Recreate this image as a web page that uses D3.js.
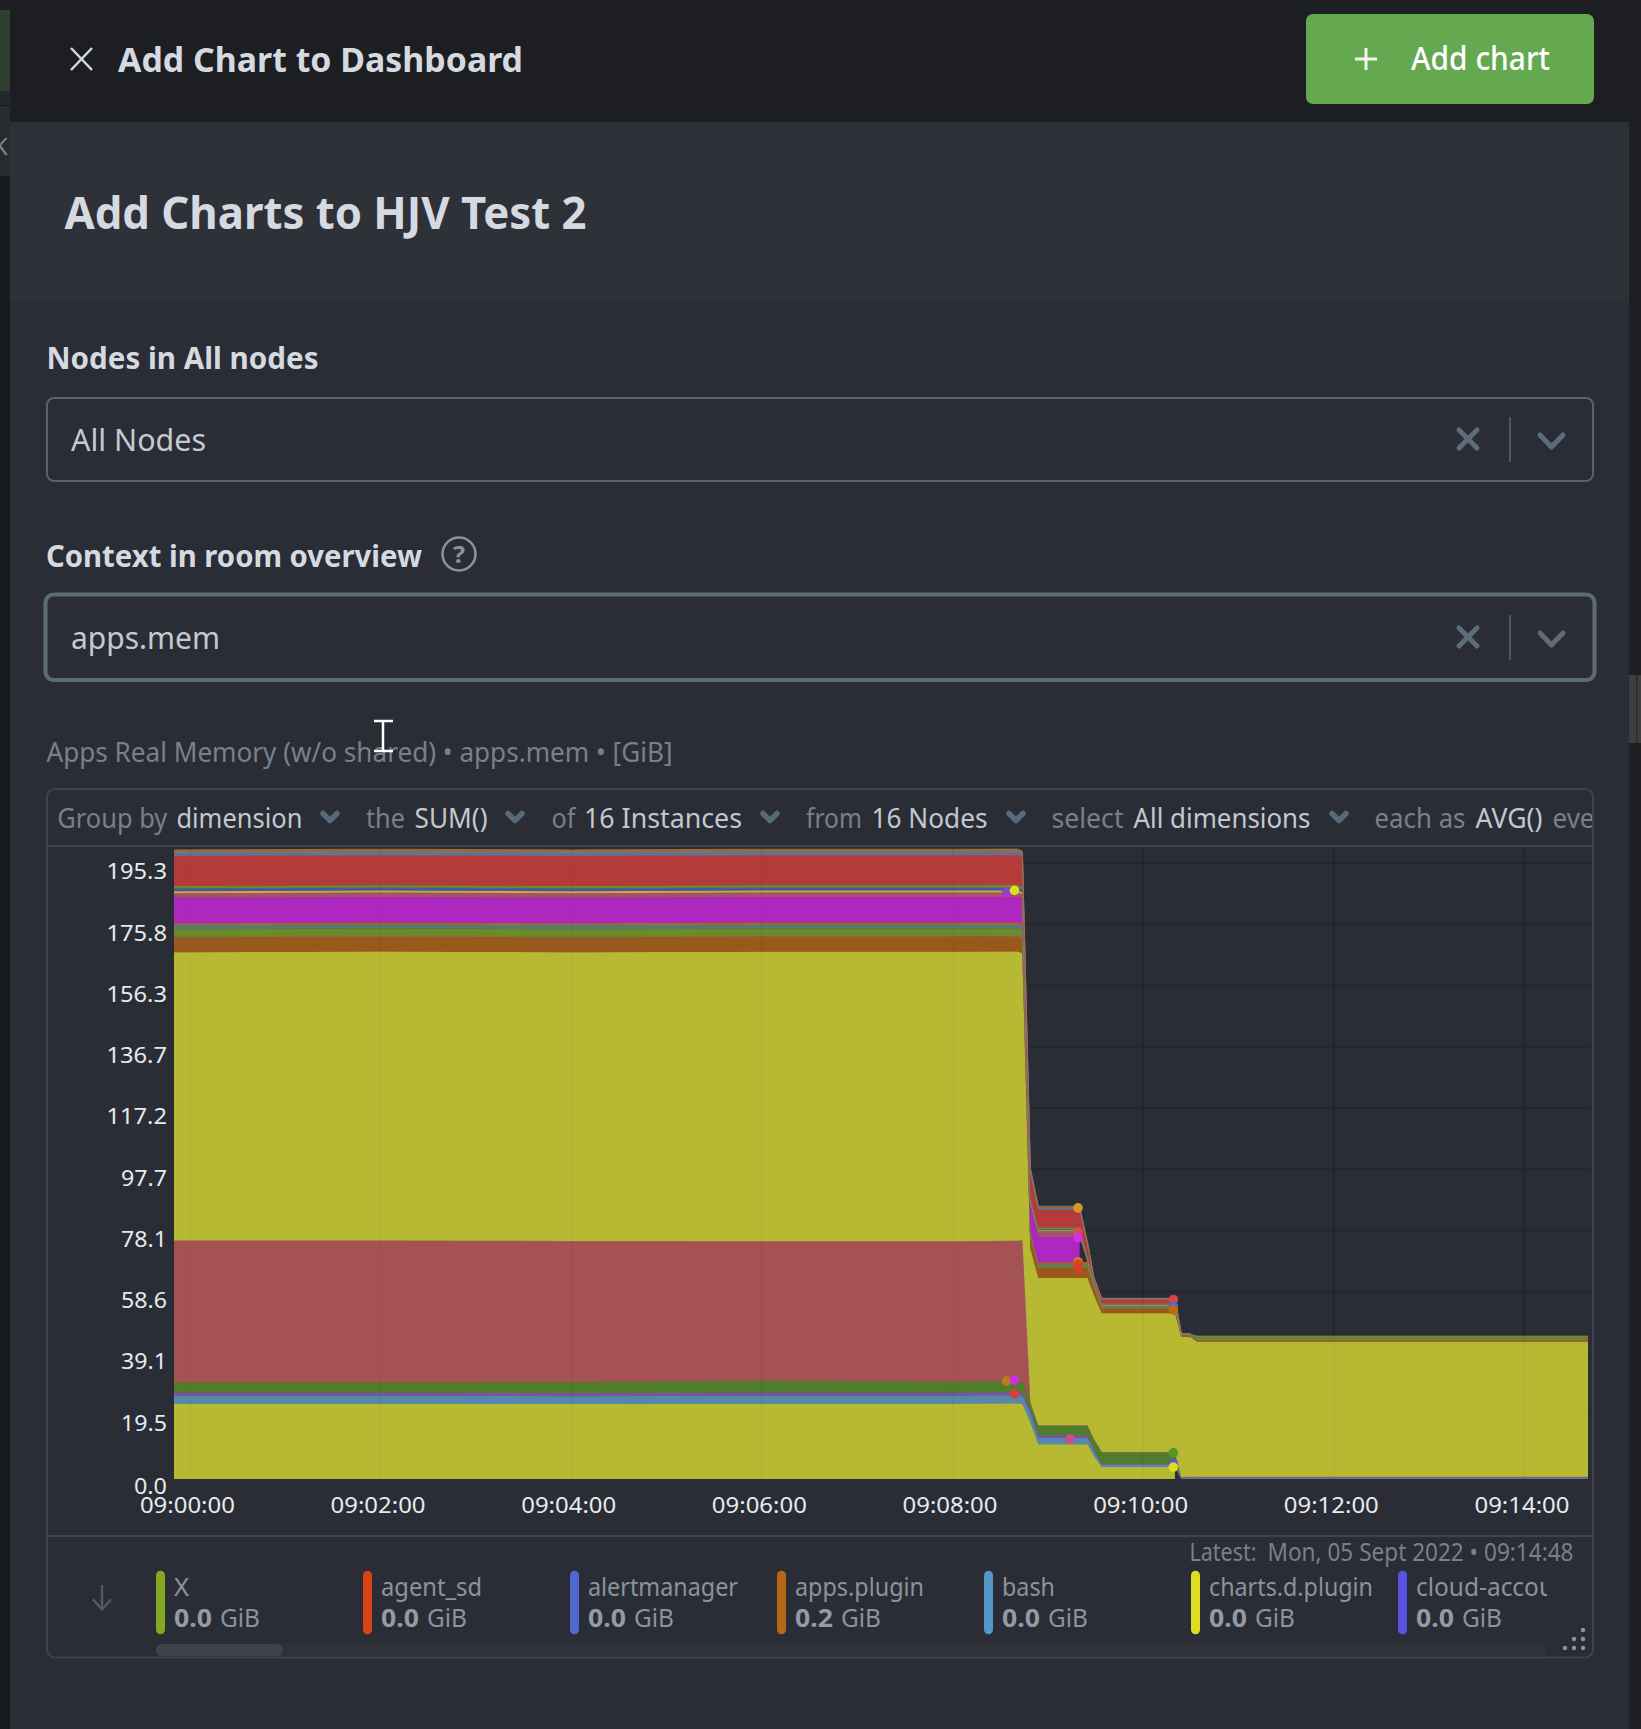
<!DOCTYPE html>
<html><head><meta charset="utf-8">
<script src="https://cdn.jsdelivr.net/npm/d3@7"></script>
<style>html,body{margin:0;padding:0;background:#2a2d35;overflow:hidden}svg{display:block}text{font-family:"Noto Sans",Roboto,sans-serif}</style>
</head><body><svg id="c" width="1641" height="1729" viewBox="0 0 1641 1729"></svg>
<script>
// ---------- data ----------
const times = ["08:59:50","09:02:00","09:04:00","09:06:00","09:08:00","09:08:41","09:08:44","09:08:49","09:08:54","09:09:20","09:09:25","09:09:29","09:09:34","09:10:20","09:10:24","09:10:30","09:10:34","09:14:40"];
const yellowLow  = [23.93,23.93,23.78,23.93,23.93,24.09,23.93,17.95,11.02,11.02,11.02,7.4,3.78,3.78,null,null,null,null];
const steelBlue  = [2.52,2.52,2.52,2.52,2.52,2.52,2.52,2.83,2.05,2.05,2.05,1.4,.64,.64,.2,.2,.2,.2];
const purpleLow  = [.95,.95,.95,.95,.95,.95,.95,.95,.8,.8,.8,.5,.32,.32,.4,.4,.4,.4];
const greenDark  = [3.27,3.27,3.5,3.8,3.5,3.5,3.5,2.83,3.18,3.18,3.18,3.5,3.81,3.81,0,.1,.1,.1];
const rose       = [45.04,45.1,44.8,44.3,44.6,44.6,44.98,0,0,0,0,0,0,0,0,0,0,0];
const yellowBig  = [91.54,91.7,91.7,91.96,91.96,91.86,91.03,48.6,46.78,46.78,46.78,45.7,44.05,44.05,44.6,44.3,42.9,42.9];
const brown      = [4.92,4.92,4.92,4.92,4.92,4.92,4.92,4.13,3.4,3.4,3.4,2.54,1.68,1.68,.32,.32,.48,.48];
const olive      = [2.38,2.38,2.38,2.38,2.38,2.38,2.38,.64,.64,.64,.64,.48,.32,.32,.16,.16,.48,.48];
const teal       = [1.27,1.27,1.27,1.27,1.27,1.27,1.27,.64,.48,.48,.48,.32,.32,.32,.16,.16,.16,.16];
const orangeLine = [.64,.64,.64,.64,.64,.64,.64,.32,.48,.48,.48,.16,.1,.1,.05,.05,.05,.05];
const magenta    = [8.1,8.1,8.1,8.1,8.1,8.1,8.1,8.26,8.03,8.03,null,null,null,null,null,null,null,null];
const pink       = [1.43,1.43,1.43,1.43,1.43,1.43,1.43,.95,1.81,1.81,.64,.32,.16,.16,.1,.1,.1,.1];
const yellowLine = [.64,.64,.64,.64,.64,.64,.64,.32,.32,.32,.32,.16,.1,.1,.03,.03,null,null];
const indigo     = [.95,.95,.95,.95,.95,.95,.95,.32,.32,.32,.32,.16,.1,.1,.03,.03,null,null];
const greenLine  = [.73,.73,.73,.73,.73,.73,.73,.64,.54,.54,.64,.32,.38,.38,.1,.1,.5,.5];
const red        = [9.53,9.53,9.53,9.53,9.53,9.53,9.53,7.62,5.65,5.65,3.65,.8,1.27,1.27,.03,.03,null,null];
const slateTop   = [.8,.8,.8,.8,.8,.8,.8,.8,.32,.32,.3,.1,.12,.12,.03,.03,null,null];
const tealTop    = [.48,.48,.48,.48,.48,.48,.48,.48,.32,.32,.2,.1,.1,.1,.03,.03,null,null];
const orangeTop  = [.64,.64,.64,.64,.64,.64,.64,.64,.48,.48,.3,.12,.12,.12,.04,.04,null,null];
const layerNames = ["yellowLow","steelBlue","purpleLow","greenDark","rose","yellowBig","brown","olive","teal","orangeLine","magenta","pink","yellowLine","indigo","greenLine","red","slateTop","tealTop","orangeTop"];
const layerValues = [yellowLow,steelBlue,purpleLow,greenDark,rose,yellowBig,brown,olive,teal,orangeLine,magenta,pink,yellowLine,indigo,greenLine,red,slateTop,tealTop,orangeTop];
const layerFill = ["#b8b933","#5488ac","#7d4fa8","#4f7d2b","#a55252","#b8b933","#99591c","#6c8a2a","#4f7f6e","#b5622a","#ae28c0","#a8506a","#c2b030","#4a55a8","#668f2a","#b33c3a","#6c6c96","#5f7f80","#9c6a3a"];
const layerStroke = ["#b8b933","#5f8fb0","#8a5ab0","#568530","#a06078","#b8b933","#7d7a6a","#6c8a2a","#5f8080","#b5622a","#ae28c0","#a8506a","#d0c030","#5a60b0","#6c9030","#a85050","#707098","#6f8090","#a8703a"];
const xTicks = ["09:00:00","09:02:00","09:04:00","09:06:00","09:08:00","09:10:00","09:12:00","09:14:00"];
const yTicks = [0,19.53,39.06,58.59,78.12,97.66,117.19,136.72,156.25,175.78,195.31];
const dotTimes  = ["09:08:34","09:08:39","09:08:34","09:08:39","09:08:39","09:09:14","09:09:19","09:09:19","09:09:19","09:09:19","09:09:19","09:09:19","09:10:19","09:10:19","09:10:19","09:10:19","09:10:19","09:10:19"];
const dotValues = [186.2,186.9,31.1,31.3,27.0,12.7,86.1,78.3,76.6,69.0,68.0,66.9,57.0,54.8,53.7,8.3,4.8,3.8];
const dotColors = ["#9b3fc4","#dddd22","#b57f20","#cf2ee0","#d8403f","#cc4d8a","#d8972a","#d05050","#d62ee8","#c77a20","#d84315","#d8402a","#d94545","#4f69d0","#bb6a15","#5a9428","#5a52e0","#dddd22"];
const legendNames = ["X","agent_sd","alertmanager","apps.plugin","bash","charts.d.plugin","cloud-account"];
const legendValues = ["0.0","0.0","0.0","0.2","0.0","0.0","0.0"];
const legendColors = ["#84a920","#d84315","#4f69d0","#b8661a","#5497c6","#dddd22","#5a52e0"];
const legendNameWidths = [15,101,150,129,53,164,162];
const toolbarWords = ["Group by","dimension","the","SUM()","of","16 Instances","from","16 Nodes","select","All dimensions","each as","AVG()","eve"];
const toolbarStarts = [57.3,176.4,366,414.6,551.4,584,806,871.5,1051.5,1133.5,1374.5,1475.5,1552.5];
const toolbarWidths = [110,126,39,73,24,158,56,116,72,177,91,67,42];
const toolbarChevrons = [330,515,770,1016,1339];

// ---------- helpers ----------
const svg = d3.select("#c");
const parse = d3.timeParse("%H:%M:%S");
function rect(x,y,w,h,fill,o={}){const r=svg.append("rect").attr("x",x).attr("y",y).attr("width",w).attr("height",h).attr("fill",fill);for(const k in o)r.attr(k,o[k]);return r;}
function txt(s,x,y,size,fill,weight,width,parent){const t=(parent||svg).append("text").text(s).attr("x",x).attr("y",y).attr("font-size",size).attr("fill",fill).attr("font-weight",weight||400);if(width)t.attr("textLength",width).attr("lengthAdjust","spacingAndGlyphs");return t;}
function line(x1,y1,x2,y2,stroke,w,cap){return svg.append("line").attr("x1",x1).attr("y1",y1).attr("x2",x2).attr("y2",y2).attr("stroke",stroke).attr("stroke-width",w).attr("stroke-linecap",cap||"butt");}
function poly(p,stroke,w){return svg.append("polyline").attr("points",p).attr("fill","none").attr("stroke",stroke).attr("stroke-width",w).attr("stroke-linecap","round").attr("stroke-linejoin","round");}

// ---------- page chrome ----------
rect(0,0,1641,1729,"#2a2d35");
rect(0,0,10,1729,"#17191d");
rect(0,0,10,10,"#1c1e22"); rect(0,10,10,81,"#2e3f2d"); rect(0,91,10,14,"#24272c"); rect(0,106,10,70,"#282b30");
txt("K",-7,155,24,"#7c858f",400);
rect(1629,0,12,1729,"#1d1f22");
rect(1629,675,12,68,"#3e3e3e"); rect(1636,675,1.5,68,"#2a2a2a");
rect(10,0,1619,122,"#1c1e22");
rect(10,122,1619,180,"#2e3137");
// header
line(71,48,92,70,"#d5d9e0",2.5); line(92,48,71,70,"#d5d9e0",2.5);
txt("Add Chart to Dashboard",118,71.7,34,"#d5d9e0",700,405);
rect(1306,14,288,90,"#64a94f",{rx:7});
line(1355,59,1377,59,"#f2f6ef",3); line(1366,48,1366,70,"#f2f6ef",3);
txt("Add chart",1411,70.3,32,"#ffffff",500,139);
txt("Add Charts to HJV Test 2",64.5,229.3,44,"#d5d9e0",700,522);
// fields
txt("Nodes in All nodes",46.5,369.3,30,"#d5d9e0",700,272);
rect(47,398,1546,83,"none",{stroke:"#566472","stroke-width":2,rx:7});
txt("All Nodes",71,450.7,30,"#c5cad1",400,135);
txt("Context in room overview",46,566.5,30,"#d5d9e0",700,376);
svg.append("circle").attr("cx",459).attr("cy",554).attr("r",16.5).attr("fill","none").attr("stroke","#8a939c").attr("stroke-width",2.5);
txt("?",453,563,24,"#8a939c",700,12);
rect(45.5,594.5,1549,85.5,"none",{stroke:"#5c6b78","stroke-width":4,rx:8});
txt("apps.mem",71,648.5,30,"#c5cad1",400,149);
[[439,417,462,435,447],[637,615,660,633,645]].forEach(([cy,s1,s2,c1,c2])=>{
  line(1459,cy-9,1477,cy+9,"#5d6c7a",5,"round"); line(1477,cy-9,1459,cy+9,"#5d6c7a",5,"round");
  line(1510,s1,1510,s2,"#566472",1.6);
  poly(`1540,${c1} 1551.5,${c2} 1563,${c1}`,"#5d6c7a",5);
});
txt("Apps Real Memory (w/o shared) • apps.mem • [GiB]",46.5,762.2,26.5,"#76818c",400,626);
// card
rect(47,789,1546,868.5,"none",{stroke:"#3e434c","stroke-width":2,rx:8});
line(47,846,1593,846,"#3e434c",2);
line(47,1536,1593,1536,"#3e434c",2);
// toolbar
const defs = svg.append("defs");
defs.append("clipPath").attr("id","tb").append("rect").attr("x",48).attr("y",790).attr("width",1544).attr("height",55);
defs.append("clipPath").attr("id","lg").append("rect").attr("x",150).attr("y",1560).attr("width",1397).attr("height",84);
const tb = svg.append("g").attr("clip-path","url(#tb)");
toolbarWords.forEach((w,i)=>{txt(w,toolbarStarts[i],827.7,26.5,(i%2===0)?"#76818c":"#c3c8cf",400,toolbarWidths[i],tb);});
toolbarChevrons.forEach(cx=>poly(`${cx-7},813.5 ${cx},820.5 ${cx+7},813.5`,"#566a7a",5.5));

// ---------- chart ----------
const rows = times.map((t,i)=>{const r={time:parse(t)};layerNames.forEach((n,j)=>r[n]=layerValues[j][i]);return r;});
const x = d3.scaleTime().domain([parse(times[0]),parse(times[times.length-1])]).range([174,1588]);
const y = d3.scaleLinear().domain([0,201]).range([1479,846]);
const yGuide = d3.scaleLinear().domain([0,201.9]).range([1475.5,842.3]);
const gridColor="#24262a";
const grid = svg.append("g");
grid.selectAll(".gx").data(xTicks).join("line").attr("class","gx").attr("x1",d=>x(parse(d))).attr("x2",d=>x(parse(d))).attr("y1",847).attr("y2",1479).attr("stroke",gridColor).attr("stroke-width",2);
grid.selectAll(".gy").data(yTicks.slice(1)).join("line").attr("class","gy").attr("x1",174).attr("x2",1590).attr("y1",d=>yGuide(d)).attr("y2",d=>yGuide(d)).attr("stroke",gridColor).attr("stroke-width",2);
const stacked = d3.stack().keys(layerNames)(rows);
const marks = svg.append("g");
stacked.forEach((s,i)=>{
  const def = d=>d.data[s.key]!==null;
  const a = d3.area().defined(def).x(d=>x(d.data.time)).y0(d=>y(d[0])).y1(d=>y(d[1]));
  const l = d3.line().defined(def).x(d=>x(d.data.time)).y(d=>y(d[1]));
  marks.append("path").attr("d",a(s)).attr("fill",layerFill[i]);
  marks.append("path").attr("d",l(s)).attr("fill","none").attr("stroke",layerStroke[i]).attr("stroke-width",1).attr("stroke-opacity",.8);
});
const over = svg.append("g");
over.selectAll(".gx").data(xTicks).join("line").attr("class","gx").attr("x1",d=>x(parse(d))).attr("x2",d=>x(parse(d))).attr("y1",847).attr("y2",1479).attr("stroke","#000").attr("stroke-width",2).attr("opacity",.02);
svg.append("g").selectAll("circle").data(dotTimes).join("circle").attr("cx",d=>x(parse(d))).attr("cy",(d,i)=>y(dotValues[i])).attr("r",4.8).attr("fill",(d,i)=>dotColors[i]);

// axes
const xAxis = d3.axisBottom(x).tickValues(xTicks.map(parse)).tickFormat(d3.timeFormat("%H:%M:%S")).tickSize(0);
const gx = svg.append("g").attr("transform","translate(-3,1479)").call(xAxis);
gx.select(".domain").remove();
gx.selectAll("text").attr("y",33.5).attr("dy",null).attr("font-size",22).attr("fill","#e8eaed").attr("textLength",95).attr("lengthAdjust","spacingAndGlyphs").style("font-family",'"Noto Sans",Roboto,sans-serif');
const yAxis = d3.axisLeft(yGuide).tickValues(yTicks).tickFormat(d3.format(".1f")).tickSize(0);
const gy = svg.append("g").attr("transform","translate(167,0)").call(yAxis);
gy.select(".domain").remove();
gy.selectAll("text").attr("x",0).attr("y",d=>d===0?18:16).attr("dy",null).attr("font-size",22).attr("fill","#e8eaed").style("font-family",'"Noto Sans",Roboto,sans-serif');
gy.selectAll("text").each(function(d){d3.select(this).attr("textLength",this.textContent.length===5?60.5:(this.textContent.length===4?46:33)).attr("lengthAdjust","spacingAndGlyphs");});

// ---------- legend ----------
txt("Latest:",1189.5,1560.5,24.5,"#76818c",400,67);
txt("Mon, 05 Sept 2022 • 09:14:48",1267.5,1560.5,24.5,"#76818c",400,306);
line(102,1585,102,1609,"#4f5b66",2.5);
poly("93.5,1600 102,1609.5 110.5,1600","#4f5b66",2.5);
const lg = svg.append("g").attr("clip-path","url(#lg)");
const legX = d3.scalePoint().domain(legendNames).range([156,1398]);
legendNames.forEach((n,i)=>{
  const bx = legX(n);
  lg.append("rect").attr("x",bx).attr("y",1570.7).attr("width",9).attr("height",63.5).attr("rx",4.5).attr("fill",legendColors[i]);
  txt(n,bx+18,1596,24.5,"#8a939e",400,legendNameWidths[i],lg);
  txt(legendValues[i],bx+18,1627.2,24.5,"#929ba6",700,38,lg);
  txt("GiB",bx+64,1627.2,24.5,"#8a939e",400,40,lg);
});
rect(156,1644,1391,12.5,"#2f3239",{rx:5});
rect(156,1644,127,12.5,"#3c424b",{rx:6});
[[1583,1630],[1574,1639],[1583,1639],[1565,1648],[1574,1648],[1583,1648]].forEach(([cx,cy])=>svg.append("circle").attr("cx",cx).attr("cy",cy).attr("r",2.2).attr("fill","#8b949e"));
// cursor
line(383,721,383,750,"#ffffff",2.5); line(374,721,393,721,"#ffffff",2.5); line(374,751,393,751,"#ffffff",2.5);
</script></body></html>
